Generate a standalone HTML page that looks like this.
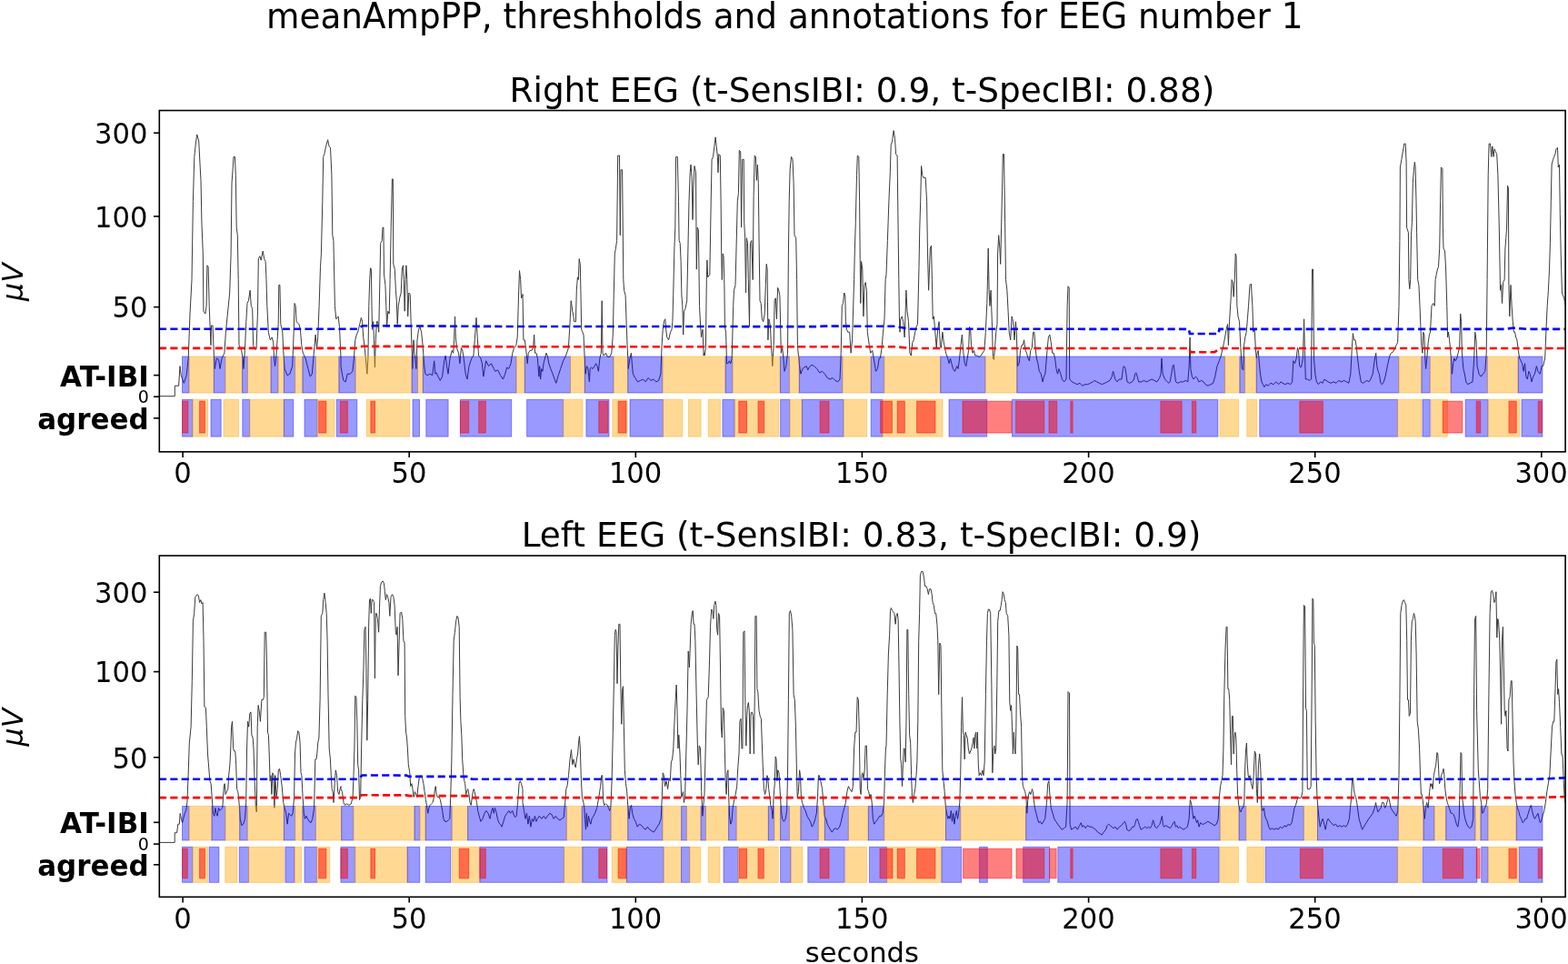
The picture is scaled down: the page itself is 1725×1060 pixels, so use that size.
<!DOCTYPE html>
<html><head><meta charset="utf-8"><title>meanAmpPP</title><style>html,body{margin:0;padding:0;background:#fff;}
body{width:1725px;height:1060px;overflow:hidden;}
svg{display:block;}
text{font-family:"DejaVu Sans","Liberation Sans",sans-serif;fill:#000;}
.ti{font-size:37.4px;}
.st{font-size:37.4px;}
.tk{font-size:30.6px;}
.bd{font-size:31px;font-weight:bold;}
.sm{font-size:19px;}
.yl{font-size:31.5px;font-style:italic;}
.tick{stroke:#000;stroke-width:1.6;}
.sig{fill:none;stroke:#3a3a3a;stroke-width:1.0;stroke-linejoin:round;}
.db{fill:none;stroke:#0000ff;stroke-width:2.6;stroke-dasharray:8.1 4.243;}
.dr{fill:none;stroke:#ff0000;stroke-width:2.6;stroke-dasharray:8.1 4.243;}
.B{fill:#0000ff;fill-opacity:0.4;stroke:#0000ff;stroke-opacity:0.4;stroke-width:1.0;}
.O{fill:#ffa500;fill-opacity:0.42;stroke:#ffa500;stroke-opacity:0.42;stroke-width:1.0;}
.R{fill:#ff0000;fill-opacity:0.5;stroke:#ff0000;stroke-opacity:0.5;stroke-width:1.0;}
</style></head>
<body><svg width="1725" height="1060" viewBox="0 0 1725 1060">
<text transform="translate(863.3,30.5) scale(1,1.035)" class="ti" text-anchor="middle">meanAmpPP, threshholds and annotations for EEG number 1</text>
<clipPath id="c1"><rect x="175.3" y="121.5" width="1546.8" height="375.3"/></clipPath>
<g clip-path="url(#c1)">
<polyline class="sig" points="175,435.7 192.3,435.7 192.3,424.2 196.6,424.2 198,402.6 199.2,412.7 202.3,421.3 205.2,412.7 207.2,394 209,345 211,307.6 212.4,221.3 213.8,172.4 215.3,158 216.7,147.9 218.7,155.1 220.2,183.9 221,198.3 221.9,244.3 223.3,278.9 223.9,342.2 225.9,345 227.1,336.4 227.9,291.8 229.1,293.3 230.2,336.4 231.1,359.4 232,379.6 232.5,358 234,358 235.4,391.1 236.3,405.5 238.3,394 240.6,395.4 242,405.5 244.1,394 246.9,388.2 248.4,365.2 250.4,345 252.7,322 254.1,278.9 255,201.2 256.1,186.8 257,172.4 258.4,172.4 259.3,192.5 260.2,250.1 261.3,258.7 262.2,307.6 263,379.6 265.6,385.3 267.1,394 267.9,405.5 269.4,385.3 270.8,353.7 272,333.5 273.4,330.7 275.1,319.2 276.3,336.4 277.7,339.3 278.6,379.6 280,383.9 282,383.9 283.5,342.2 284.3,284.6 285.8,281.7 287.2,286.1 289.2,276 290.7,284.6 292.1,287.5 293,307.6 293.8,336.4 295.3,365.2 297.3,373.8 299.3,370.9 300.7,376.7 301.6,394 302.5,402.6 303.9,391.1 305.1,373.8 306.2,356.6 306.8,313.4 307.9,313.4 308.8,356.6 310.8,365.2 311.7,385.3 313.1,405.5 316,412.7 318.9,411.2 321.7,402.6 323.2,365.2 324,333.5 325.2,336.4 326.1,353.7 328.9,356.6 330.4,362.3 331.8,379.6 333.3,388.2 336.1,394 339,405.5 341.3,414.1 343.3,411.2 345.3,388.2 347.1,368.1 348.5,382.5 349.7,370.9 351.1,336.4 352.5,293.3 353.4,278.9 354.8,221.3 355.7,172.4 356.8,169.5 358.6,160.9 360.6,153.7 362,160.9 363.5,162.3 364.9,192.5 365.8,258.7 366.9,264.5 368.4,336.4 369.8,350.8 372.1,347.9 373.5,359.4 375,394 375,402.6 376.4,411.2 377.9,418.4 380.2,419.9 382.2,411.2 385.1,411.2 387.9,408.3 389.4,394 390.8,373.8 392.3,368.1 393.7,365.2 395.7,356.6 397.4,349.4 398.6,353.7 399.7,370.9 400.9,379.6 402.3,394 403.8,411.2 404.9,394 405.8,336.4 406.7,307.6 407.5,294.7 408.4,296.1 409,336.4 409.5,362.3 410.7,353.7 411.5,373.8 412.4,404 413.3,373.8 414.4,353.7 415.6,353.7 416.7,365.2 417.6,322 418.7,267.4 420.2,264.5 421,250.1 421.9,250.1 422.5,301.9 423.9,313.4 424.8,336.4 425.6,359.4 426.8,342.2 428.2,345 429.1,307.6 430.2,250.1 431.4,196.9 432.3,196.9 432.8,290.4 434.3,296.1 435.4,319.2 436.3,330.7 437.2,356.6 438.3,336.4 439.7,327.8 441.2,322 442.3,296.1 443.5,291.8 444.3,307.6 445.2,342.2 446.1,307.6 446.9,291.8 447.8,307.6 448.7,347.9 449.8,322 451.2,323.5 452.1,353.7 453,382.5 453.8,405.5 455,373.8 456.1,388.2 457.9,405.5 459,373.8 460.5,362.3 461.9,359.4 463.6,365.2 465.1,379.6 466.5,399.7 467.9,411.2 470,412.7 472.8,411.2 475.7,412.7 477.7,396.8 478.9,411.2 480,409.8 482,414.1 484.3,418.4 486.6,414.1 488.7,396.8 490.1,391.1 491.5,402.6 493,411.2 495,394 497.3,385.3 498.7,388.2 499.6,373.8 500.5,347.9 501.3,370.9 502.5,382.5 504.5,388.2 505.9,399.7 507.4,382.5 508.8,385.3 510.2,394 512.2,411.2 514,417 516,402.6 518.9,394 520.9,391.1 522.3,373.8 524,349.4 525.2,370.9 526.6,391.1 528.9,394 530.4,399.7 531.8,414.1 533.3,405.5 534.7,396.8 537.6,402.6 540.4,399.7 543.3,405.5 544.8,408.3 547.6,406.9 550.5,412.7 553.4,417 555.7,411.2 557.7,404 559.7,405.5 562,399.7 563.8,388.2 565.5,382.5 567.8,379.6 569.2,370.9 570.7,319.2 571.5,297.6 572.7,307.6 573.5,327.8 575,324.9 575,323.5 575.9,373.8 577.3,373.8 578.5,382.5 580.2,399.7 581.3,388.2 583.1,385.3 585.1,385.3 586.5,382.5 587.7,368.1 588.5,388.2 590,388.2 591.4,394 592.8,414.1 593.7,402.6 594.6,417 595.7,405.5 596.9,408.3 598,399.7 599.5,394 600.9,388.2 602.3,391.1 603.8,399.7 605.8,405.5 608.1,411.2 610.1,417 611.8,421.3 613.8,414.1 616.7,405.5 619.6,396.8 622.5,391.1 625.4,382.5 626.8,359.4 628.2,330.7 629.1,336.4 629.7,342.2 630.5,345 631.7,353.7 633.4,353.7 634.3,319.2 635.4,304.8 636.3,307.6 637.2,284.6 638.3,290.4 638.9,319.2 639.7,362.3 640.9,365.2 642,368.1 643.2,394 644.1,411.2 645.5,402.6 646.9,405.5 648.4,419.9 649.2,405.5 650.4,404 652.1,405.5 654.1,402.6 655.6,399.7 657,402.6 658.4,408.3 659.9,394 661.3,388.2 662.2,330.7 663,388.2 664.2,391.1 666.5,388.2 668.5,392.5 670.8,392.5 672.8,388.2 674.3,368.1 675.1,330.7 676.3,278.9 677.4,273.1 678.6,264.5 679.7,171 681.5,171 682.3,258.7 682.9,186.8 684.6,186.8 685.8,307.6 686.6,319.2 688.1,324.9 689.2,356.6 690.1,379.6 691.2,405.5 693,394 694.4,388.2 695.3,399.7 696.4,411.2 698.7,415.5 701.6,419.9 704.5,418.4 707.4,417 710.2,419.9 713.1,415.5 716,418.4 718.9,417 721.7,419.9 724.6,418.4 726.9,411.2 728.1,379.6 729.2,362.3 730.4,353.7 731.8,350.8 732.7,362.3 733.8,370.9 735.6,373.8 737.6,365.2 739,362.3 739.9,353.7 740.7,324.9 741.9,273.1 742.8,250.1 743.6,172.4 745.3,172.4 746.5,221.3 747.1,264.5 748.2,267.4 749.1,287.5 749.9,324.9 750.8,336.4 751.7,368.1 752.5,342.2 754,339.3 755.7,330.7 756.8,278.9 758,221.3 759.2,189.7 760,181 761.2,195.4 762,241.5 762.9,206.9 764,182.5 765.5,189.7 766.3,296.1 767.2,250.1 768.4,253 769.5,336.4 770.7,359.4 771.5,370.9 773,362.3 774.1,391.1 775,388.2 775,391.1 776.4,382.5 777.3,307.6 777.9,286.1 778.7,304.8 780.8,301.9 782.2,221.3 783.1,175.3 784.5,172.4 785.9,160.9 787.1,150.8 788.2,160.9 789.4,172.4 790,189.7 790.8,169.5 792.3,171 793.1,221.3 793.7,278.9 794.3,307.6 795.1,278.9 796,281.7 796.9,313.4 797.4,359.4 798.6,365.2 799.5,399.7 800.9,399.7 802.3,396.8 803.8,399.7 805.2,394 806.7,336.4 807.5,319.2 809,313.4 810.1,270.2 811.3,221.3 812.4,212.7 813.3,165.2 814.7,166.7 815.6,250.1 816.7,175.3 818.2,175.3 818.7,244.3 819.6,261.6 820.5,322 821.3,261.6 822.5,267.4 823.3,307.6 824.5,359.4 825.4,267.4 826.8,264.5 828.2,307.6 829.1,215.6 830.2,171 831.4,172.4 832.3,198.3 833.4,181 834.3,201.2 835.1,267.4 836,330.7 837.2,333.5 838.3,350.8 839.7,353.7 841.2,345 842.3,313.4 843.2,290.4 844.1,296.1 844.9,373.8 845.8,350.8 846.6,353.7 847.5,359.4 848.4,379.6 849.8,402.6 851.2,379.6 852.1,330.7 853.3,327.8 854.4,350.8 855.6,316.3 856.7,319.2 857.9,324.9 859.3,388.2 860.7,382.5 861.9,394 863,408.3 864.8,402.6 866.5,388.2 867.4,278.9 868.2,221.3 869.1,186.8 870.5,172.4 872,175.3 873.1,201.2 874,258.7 875.7,261.6 876.6,307.6 877.4,379.6 879.2,399.7 880.9,411.2 882.9,405.5 884.9,404 887.2,402.6 888.7,406.9 890.1,404 893,401.2 895.8,402.6 898.7,405.5 901.6,409.8 904.5,408.3 907.4,411.2 910.2,415.5 913.1,417 916,415.5 918.9,418.4 921.7,419.9 924,417 925.2,388.2 926.3,336.4 927.5,333.5 928.7,322 929.8,324.9 930.4,353.7 931.5,362.3 932.7,365.2 934.7,365.2 936.1,388.2 937.6,373.8 938.4,347.9 939.6,307.6 940.4,273.1 941.3,244.3 942.5,192.5 943.3,171 944.8,172.4 945.6,221.3 946.2,284.6 946.8,333.5 947.6,287.5 948.8,296.1 949.9,347.9 951.1,313.4 952.2,310.5 953.4,319.2 954.3,365.2 956.3,379.6 957.7,388.2 959.7,385.3 961.2,394 963.5,408.3 965.5,405.5 967.2,394 968.4,394 970.1,382.5 971.5,365.2 973,350.8 974.1,307.6 975,301.9 975,301.9 976.4,264.5 977.9,221.3 979.3,189.7 980.2,159.5 981.6,155.1 983.1,143.6 984.5,152.3 985.6,169.5 987.1,171 987.9,235.7 988.8,307.6 989.4,347.9 990,365.2 990.8,350.8 992.3,347.9 993.7,353.7 995.1,370.9 996,347.9 996.9,319.2 998,342.2 999.5,353.7 1000.9,388.2 1002.3,391.1 1003.8,376.7 1005.2,373.8 1006.7,365.2 1008.1,359.4 1009.5,356.6 1011,293.3 1011.8,250.1 1012.7,221.3 1013.6,182.5 1014.7,192.5 1015.9,195.4 1018.2,195.4 1019.6,221.3 1020.5,278.9 1021.6,319.2 1022.5,296.1 1023.3,273.1 1024.5,270.2 1025.4,307.6 1026.2,350.8 1027.4,347.9 1028.8,365.2 1030.2,382.5 1031.7,362.3 1033.1,353.7 1034.3,379.6 1035.4,382.5 1036.9,365.2 1038.3,376.7 1040.6,388.2 1042.6,394 1044.1,399.7 1045.5,394 1046.9,399.7 1048.4,405.5 1050.4,408.3 1052.7,402.6 1054.1,405.5 1055.6,394 1057,379.6 1058.4,368.1 1059.9,388.2 1061.3,399.7 1062.8,402.6 1064.2,394 1065.6,385.3 1066.5,359.4 1067.7,362.3 1068.5,379.6 1070,388.2 1071.4,385.3 1072.8,391.1 1075.1,391.1 1077.1,392.5 1079.2,391.1 1080.9,388.2 1082.9,385.3 1084.3,365.2 1085.8,333.5 1086.6,301.9 1087.2,273.1 1088.1,319.2 1088.9,336.4 1090.1,319.2 1091.5,359.4 1092.4,394 1093.5,395.4 1094.7,379.6 1095.8,365.2 1097,356.6 1097.6,278.9 1098.7,258.7 1099.9,273.1 1100.7,290.4 1101.6,250.1 1102.5,209.8 1103.3,169.5 1104.5,169.5 1105.6,244.3 1106.5,307.6 1107.9,319.2 1109.1,342.2 1110.2,365.2 1111.7,373.8 1113.1,347.9 1114.6,353.7 1116,373.8 1117.4,353.7 1118.3,365.2 1119.4,402.6 1121.2,399.7 1122.6,385.3 1124,379.6 1125.2,379.6 1126.6,373.8 1128.1,385.3 1129.5,388.2 1131,394 1132.4,396.8 1133.8,385.3 1135.3,382.5 1136.7,365.2 1137.9,365.2 1139,382.5 1140.4,394 1141.9,399.7 1143.3,408.3 1145.3,411.2 1147.1,419.9 1148.5,414.1 1149.9,411.2 1152,385.3 1153.4,370.9 1154.8,368.1 1156.3,376.7 1157.7,388.2 1159.2,388.2 1160.6,394 1162,405.5 1163.5,411.2 1164.9,405.5 1166.9,411.2 1168.4,417 1170.7,419.9 1173,417 1174.1,336.4 1175,314.8 1175,314.8 1176.2,316.3 1176.7,417 1179.3,419.9 1182.2,421.3 1185.1,422.7 1187.9,421.3 1190.8,424.2 1193.7,422.7 1196.6,422.7 1199.5,421.3 1202.3,419.9 1203.8,418.4 1206.7,419.9 1209.5,421.3 1212.4,422.7 1215.3,421.3 1218.2,419.9 1221,418.4 1223.3,414.1 1224.5,408.3 1225.4,411.2 1226.8,417 1229.1,419.9 1231.1,417 1234,417 1235.4,405.5 1236.3,402.6 1237.7,404 1238.9,411.2 1240,419.9 1242.6,421.3 1245.5,419.9 1247.5,417 1248.7,411.2 1249.8,409.8 1251.2,414.1 1252.7,419.9 1255.6,419.9 1258.4,418.4 1261.3,419.9 1264.2,418.4 1267.1,417 1270,418.4 1272.8,419.9 1275.7,415.5 1277.1,411.2 1278,394 1279.2,411.2 1281.5,417 1282.9,418.4 1284.3,419.9 1285.8,421.3 1287.2,419.9 1288.7,411.2 1290.1,402.6 1291.2,401.2 1292.4,411.2 1293.5,419.9 1295.8,421.3 1298.7,419.9 1301.6,419.9 1304.5,418.4 1306.8,419.9 1308.2,402.6 1309.1,370.9 1309.9,405.5 1311.4,414.1 1313.1,417 1315.4,414.1 1316.9,415.5 1318.9,419.9 1321.7,418.4 1324,419.9 1326.1,422.7 1328.9,424.2 1331.8,422.7 1334.7,421.3 1336.7,414.1 1339,402.6 1341.3,396.8 1343.3,391.1 1345.3,382.5 1346.5,376.7 1347.6,370.9 1349.1,362.3 1350.5,356.6 1351.4,379.6 1352.5,353.7 1354,330.7 1355.1,307.6 1356.3,310.5 1357.1,326.3 1358,313.4 1359.2,278.9 1360,281.7 1360.9,336.4 1362,347.9 1363.5,353.7 1364.9,382.5 1366.3,405.5 1367.8,406.9 1368.6,379.6 1369.8,370.9 1371.2,365.2 1372.4,350.8 1373.5,336.4 1375,313.4 1375,313.4 1376.4,312 1377.9,336.4 1378.7,365.2 1380.2,362.3 1381.3,382.5 1382.2,394 1383.1,388.2 1384.2,385.3 1385.4,399.7 1386.5,411.2 1387.9,419.9 1389.4,422.7 1390.8,425.6 1392.8,422.7 1395.1,424.2 1398,421.3 1400.9,422.7 1403.8,419.9 1406.7,422.7 1409,419.9 1411,421.3 1413.8,422.7 1416.7,421.3 1419.6,422.7 1421.6,419.9 1422.8,396.8 1424.5,399.7 1426.2,394 1427.4,382.5 1428.5,385.3 1429.7,402.6 1431.1,404 1432.5,399.7 1433.4,394 1434.6,350.8 1435.4,385.3 1436.3,417 1438.3,417 1440.6,418.4 1442.6,417 1443.5,296.1 1444.6,296.1 1445.5,394 1446.9,411.2 1448.4,419.9 1450.4,422.7 1452.7,419.9 1455,421.3 1457,417 1459,418.4 1461.3,419.9 1464.2,421.3 1467.1,419.9 1470,421.3 1472.8,418.4 1475.7,419.9 1478.6,418.4 1481.5,419.9 1483.8,421.3 1485.8,411.2 1487.2,385.3 1488.4,366.6 1489.5,373.8 1491,373.8 1492.4,382.5 1493.5,394 1495.3,408.3 1497.3,419.9 1499.3,421.3 1501.6,419.9 1503.9,418.4 1505.9,419.9 1507.9,417 1510.2,411.2 1512.5,394 1513.7,388.2 1514.8,402.6 1516,408.3 1517.4,411.2 1518.9,421.3 1520.3,422.7 1522.3,419.9 1524,414.1 1525.2,408.3 1526.9,399.7 1528.9,391.1 1530.4,388.2 1532.7,386.8 1534.7,382.5 1536.1,379.6 1537.6,376.7 1539,336.4 1539.9,264.5 1540.4,183.9 1541.9,175.3 1543.3,166.7 1544.8,158 1546.2,158 1547.1,178.2 1547.6,250.1 1548.5,253 1549.4,255.8 1549.9,307.6 1550.8,317.7 1551.7,307.6 1552.5,258.7 1553.4,244.3 1554.3,201.2 1555.4,186.8 1556.3,178.2 1557.1,183.9 1558,221.3 1558.6,255.8 1559.7,307.6 1560.9,313.4 1562,336.4 1562.9,359.4 1563.8,379.6 1564.9,388.2 1565.8,365.2 1566.9,368.1 1567.8,394 1568.6,405.5 1569.8,394 1571.2,376.7 1572.4,368.1 1573.5,365.2 1575,336.4 1575.1,336.4 1576.8,333.5 1578.2,336.4 1579.1,307.6 1580.2,301.9 1581.4,296.1 1582.5,293.3 1583.7,273.1 1584.6,221.3 1585.4,183.9 1586.9,185.4 1587.4,250.1 1588,273.1 1589.5,276 1590.6,296.1 1591.8,336.4 1592.6,370.9 1593.5,365.2 1594.6,373.8 1596.4,394 1597.5,411.2 1598.7,399.7 1599.8,394 1601.2,396.8 1602.7,394 1604.1,388.2 1605.6,382.5 1606.7,345 1607.6,353.7 1608.4,388.2 1609.9,405.5 1611.3,411.2 1612.8,419.9 1614.8,422.7 1617.1,421.3 1620,419.9 1621.7,394 1622.8,365.2 1624,373.8 1625.1,402.6 1627.1,411.2 1629.2,414.1 1631.5,411.2 1633.8,408.3 1635.2,388.2 1636.1,307.6 1637.2,192.5 1638.1,158 1639.5,158 1640.7,172.4 1641.8,160.9 1643,172.4 1644.1,163.8 1645.3,166.7 1646.7,169.5 1647.9,192.5 1649.3,250.1 1650.5,319.2 1651.6,313.4 1652.5,333.5 1653.6,310.5 1655.1,307.6 1655.9,273.1 1656.8,261.6 1657.6,250.1 1658.5,204.1 1659.4,206.9 1659.9,313.4 1660.8,347.9 1662,313.4 1663.1,336.4 1664.3,353.7 1665.4,365.2 1666.6,365.2 1667.7,370.9 1668.9,373.8 1670.3,385.3 1671.7,394 1673.2,396.8 1674.6,399.7 1676.1,408.3 1677.5,399.7 1678.9,414.1 1680.4,417 1681.8,408.3 1683.3,411.2 1685,419.9 1686.7,414.1 1688.4,411.2 1690.4,402.6 1691.9,408.3 1694.2,411.2 1696.2,402.6 1697.6,402.6 1699.7,394 1701.1,359.4 1702.2,336.4 1703.4,319.2 1704.5,296.1 1705.4,267.4 1706.3,221.3 1707.1,181 1708.6,175.3 1709.7,172.4 1710.9,169.5 1712,163.8 1713.5,162.3 1714.3,183.9 1715.5,181 1716.3,235.7 1717.2,278.9 1718.4,322 1719.5,324.9 1720.7,327.8 1722.4,336.4"/>
<rect class="B" x="200.5" y="392" width="7.5" height="40"/>
<rect class="O" x="208" y="392" width="27.3" height="40"/>
<rect class="B" x="235.3" y="392" width="12.5" height="40"/>
<rect class="O" x="247.8" y="392" width="18.8" height="40"/>
<rect class="B" x="266.6" y="392" width="5.8" height="40"/>
<rect class="O" x="272.4" y="392" width="25.7" height="40"/>
<rect class="B" x="298.1" y="392" width="7.9" height="40"/>
<rect class="O" x="306" y="392" width="6.4" height="40"/>
<rect class="B" x="312.4" y="392" width="12.2" height="40"/>
<rect class="O" x="324.6" y="392" width="8.3" height="40"/>
<rect class="B" x="332.9" y="392" width="14.5" height="40"/>
<rect class="O" x="347.4" y="392" width="25.5" height="40"/>
<rect class="B" x="372.9" y="392" width="18.2" height="40"/>
<rect class="O" x="391.1" y="392" width="62" height="40"/>
<rect class="B" x="453.1" y="392" width="6.4" height="40"/>
<rect class="O" x="459.5" y="392" width="5.8" height="40"/>
<rect class="B" x="465.3" y="392" width="102.7" height="40"/>
<rect class="O" x="568" y="392" width="9.3" height="40"/>
<rect class="B" x="577.3" y="392" width="50.2" height="40"/>
<rect class="O" x="627.5" y="392" width="15.8" height="40"/>
<rect class="B" x="643.3" y="392" width="31.7" height="40"/>
<rect class="O" x="675" y="392" width="15.7" height="40"/>
<rect class="B" x="690.7" y="392" width="38.2" height="40"/>
<rect class="O" x="728.9" y="392" width="69.2" height="40"/>
<rect class="B" x="798.1" y="392" width="7.8" height="40"/>
<rect class="O" x="805.9" y="392" width="52.5" height="40"/>
<rect class="B" x="858.4" y="392" width="10.1" height="40"/>
<rect class="O" x="868.5" y="392" width="10.8" height="40"/>
<rect class="B" x="879.3" y="392" width="47.5" height="40"/>
<rect class="O" x="926.8" y="392" width="31.4" height="40"/>
<rect class="B" x="958.2" y="392" width="14.5" height="40"/>
<rect class="O" x="972.7" y="392" width="62" height="40"/>
<rect class="B" x="1034.7" y="392" width="49.3" height="40"/>
<rect class="O" x="1084" y="392" width="34.8" height="40"/>
<rect class="B" x="1118.8" y="392" width="228.7" height="40"/>
<rect class="O" x="1347.5" y="392" width="16.4" height="40"/>
<rect class="B" x="1363.9" y="392" width="5.6" height="40"/>
<rect class="O" x="1369.5" y="392" width="12.7" height="40"/>
<rect class="B" x="1382.2" y="392" width="156.6" height="40"/>
<rect class="O" x="1538.8" y="392" width="25.1" height="40"/>
<rect class="B" x="1563.9" y="392" width="9.3" height="40"/>
<rect class="O" x="1573.2" y="392" width="23" height="40"/>
<rect class="B" x="1596.2" y="392" width="40.2" height="40"/>
<rect class="O" x="1636.4" y="392" width="33.8" height="40"/>
<rect class="B" x="1670.2" y="392" width="26.7" height="40"/>
<rect class="B" x="200.5" y="439.3" width="11.4" height="40.8"/>
<rect class="O" x="211.9" y="439.3" width="16.7" height="40.8"/>
<rect class="B" x="232" y="439.3" width="11.2" height="40.8"/>
<rect class="O" x="246" y="439.3" width="16.5" height="40.8"/>
<rect class="B" x="266.8" y="439.3" width="7.9" height="40.8"/>
<rect class="O" x="274.7" y="439.3" width="37.7" height="40.8"/>
<rect class="B" x="312.4" y="439.3" width="10.4" height="40.8"/>
<rect class="B" x="335" y="439.3" width="14.1" height="40.8"/>
<rect class="O" x="349.1" y="439.3" width="18.9" height="40.8"/>
<rect class="B" x="370.2" y="439.3" width="22.6" height="40.8"/>
<rect class="O" x="403.3" y="439.3" width="47.5" height="40.8"/>
<rect class="B" x="454" y="439.3" width="7.5" height="40.8"/>
<rect class="B" x="468.8" y="439.3" width="24.3" height="40.8"/>
<rect class="B" x="506.4" y="439.3" width="56.3" height="40.8"/>
<rect class="B" x="579.6" y="439.3" width="40.1" height="40.8"/>
<rect class="O" x="619.7" y="439.3" width="21.3" height="40.8"/>
<rect class="B" x="644.9" y="439.3" width="25.1" height="40.8"/>
<rect class="O" x="673.8" y="439.3" width="16.3" height="40.8"/>
<rect class="B" x="693" y="439.3" width="36.5" height="40.8"/>
<rect class="O" x="729.5" y="439.3" width="21.3" height="40.8"/>
<rect class="O" x="757.5" y="439.3" width="13.6" height="40.8"/>
<rect class="O" x="779.2" y="439.3" width="13.3" height="40.8"/>
<rect class="B" x="794.9" y="439.3" width="13.3" height="40.8"/>
<rect class="O" x="808.2" y="439.3" width="48.7" height="40.8"/>
<rect class="B" x="858.6" y="439.3" width="10.2" height="40.8"/>
<rect class="O" x="868.8" y="439.3" width="13.6" height="40.8"/>
<rect class="B" x="882.4" y="439.3" width="45.6" height="40.8"/>
<rect class="O" x="928" y="439.3" width="25.6" height="40.8"/>
<rect class="B" x="958.2" y="439.3" width="12.7" height="40.8"/>
<rect class="O" x="970.9" y="439.3" width="66.1" height="40.8"/>
<rect class="B" x="1044" y="439.3" width="41.7" height="40.8"/>
<rect class="B" x="1113.5" y="439.3" width="226.4" height="40.8"/>
<rect class="O" x="1341.9" y="439.3" width="20.6" height="40.8"/>
<rect class="O" x="1371.8" y="439.3" width="11" height="40.8"/>
<rect class="B" x="1385.7" y="439.3" width="151.8" height="40.8"/>
<rect class="O" x="1537.5" y="439.3" width="26.4" height="40.8"/>
<rect class="B" x="1565" y="439.3" width="8.2" height="40.8"/>
<rect class="O" x="1574.5" y="439.3" width="17.9" height="40.8"/>
<rect class="B" x="1612.1" y="439.3" width="24.9" height="40.8"/>
<rect class="O" x="1637" y="439.3" width="35.1" height="40.8"/>
<rect class="B" x="1674" y="439.3" width="22.9" height="40.8"/>
<rect class="R" x="200.7" y="441.2" width="6.2" height="34.8"/>
<rect class="R" x="219.6" y="441.2" width="5.8" height="34.8"/>
<rect class="R" x="350.7" y="441.2" width="8.1" height="34.8"/>
<rect class="R" x="374.3" y="441.2" width="8.1" height="34.8"/>
<rect class="R" x="407.9" y="441.2" width="4.6" height="34.8"/>
<rect class="R" x="506.4" y="441.2" width="9.3" height="34.8"/>
<rect class="R" x="526.7" y="441.2" width="7.6" height="34.8"/>
<rect class="R" x="658.8" y="441.2" width="9.8" height="34.8"/>
<rect class="R" x="680.2" y="441.2" width="8.7" height="34.8"/>
<rect class="R" x="812.8" y="441.2" width="8.7" height="34.8"/>
<rect class="R" x="834" y="441.2" width="6.7" height="34.8"/>
<rect class="R" x="902.1" y="441.2" width="9.9" height="34.8"/>
<rect class="R" x="968.6" y="441.2" width="12.8" height="34.8"/>
<rect class="R" x="987.2" y="441.2" width="8.1" height="34.8"/>
<rect class="R" x="1008.6" y="441.2" width="20.3" height="34.8"/>
<rect class="R" x="1059" y="441.2" width="54" height="34.8"/>
<rect class="R" x="1117.6" y="441.2" width="31.2" height="34.8"/>
<rect class="R" x="1154" y="441.2" width="8.7" height="34.8"/>
<rect class="R" x="1177.8" y="441.2" width="2.3" height="34.8"/>
<rect class="R" x="1276.9" y="441.2" width="23.2" height="34.8"/>
<rect class="R" x="1311.4" y="441.2" width="4.3" height="34.8"/>
<rect class="R" x="1429.8" y="441.2" width="25.5" height="34.8"/>
<rect class="R" x="1587.3" y="441.2" width="21.6" height="34.8"/>
<rect class="R" x="1624.2" y="441.2" width="4.5" height="34.8"/>
<rect class="R" x="1660" y="441.2" width="8.2" height="34.8"/>
<rect class="R" x="1692.2" y="441.2" width="4.1" height="34.8"/>
<polyline class="db" points="175,361.7 393,361.7 399,358.2 560,359 899,359.1 907,358.6 985.5,358.8 1000,361.7 1307.8,361.9 1309,367 1340.6,367 1341.4,361.9 1655,361.9 1665,360.6 1680,361.9 1722.1,361.9"/>
<polyline class="dr" points="175,382.9 393,382.9 398.5,380.8 560,381.2 986,381.3 1002,383 1308.5,383 1309.5,387.2 1336,387.2 1342.6,383 1722.1,383"/>
</g>
<rect x="175.3" y="121.5" width="1546.8" height="375.3" fill="none" stroke="#000" stroke-width="1.6"/>
<line x1="169" y1="146.2" x2="175.3" y2="146.2" class="tick"/>
<text transform="translate(162.5,157.9) scale(1,1.065)" class="tk" text-anchor="end">300</text>
<line x1="169" y1="237.9" x2="175.3" y2="237.9" class="tick"/>
<text transform="translate(162.5,249.6) scale(1,1.065)" class="tk" text-anchor="end">100</text>
<line x1="169" y1="337.6" x2="175.3" y2="337.6" class="tick"/>
<text transform="translate(162.5,349.3) scale(1,1.065)" class="tk" text-anchor="end">50</text>
<line x1="169" y1="412.6" x2="175.3" y2="412.6" class="tick"/>
<line x1="169" y1="436.2" x2="175.3" y2="436.2" class="tick"/>
<line x1="169" y1="459.8" x2="175.3" y2="459.8" class="tick"/>
<text transform="translate(163.8,424.5) scale(1,1.04)" class="bd" text-anchor="end">AT-IBI</text>
<text transform="translate(163.8,471.7) scale(1,1.04)" class="bd" text-anchor="end">agreed</text>
<text x="163.8" y="443.2" class="sm" text-anchor="end">0</text>
<line x1="201.1" y1="496.8" x2="201.1" y2="503.1" class="tick"/>
<text transform="translate(200.9,531.1) scale(1,1.06)" class="tk" text-anchor="middle">0</text>
<line x1="450.2" y1="496.8" x2="450.2" y2="503.1" class="tick"/>
<text transform="translate(450,531.1) scale(1,1.06)" class="tk" text-anchor="middle">50</text>
<line x1="699.3" y1="496.8" x2="699.3" y2="503.1" class="tick"/>
<text transform="translate(699.1,531.1) scale(1,1.06)" class="tk" text-anchor="middle">100</text>
<line x1="948.4" y1="496.8" x2="948.4" y2="503.1" class="tick"/>
<text transform="translate(948.2,531.1) scale(1,1.06)" class="tk" text-anchor="middle">150</text>
<line x1="1197.6" y1="496.8" x2="1197.6" y2="503.1" class="tick"/>
<text transform="translate(1197.4,531.1) scale(1,1.06)" class="tk" text-anchor="middle">200</text>
<line x1="1446.7" y1="496.8" x2="1446.7" y2="503.1" class="tick"/>
<text transform="translate(1446.5,531.1) scale(1,1.06)" class="tk" text-anchor="middle">250</text>
<line x1="1695.8" y1="496.8" x2="1695.8" y2="503.1" class="tick"/>
<text transform="translate(1695.6,531.1) scale(1,1.06)" class="tk" text-anchor="middle">300</text>
<text transform="translate(24.6,310.1) rotate(-90)" class="yl" text-anchor="middle">&#956;V</text>
<text x="948.4" y="111.5" class="st" text-anchor="middle">Right EEG (t-SensIBI: 0.9, t-SpecIBI: 0.88)</text>
<clipPath id="c2"><rect x="175.3" y="611.0" width="1546.8" height="375.29999999999995"/></clipPath>
<g clip-path="url(#c2)">
<polyline class="sig" points="175,926.4 192.2,926.4 192.2,915.7 194.6,915.7 195.8,906.2 197.3,906.2 198.2,894.3 199.4,900.3 200.6,904.7 201.7,900.3 203.2,894.3 204.7,891.4 205.9,882.5 207.1,852.7 208.3,817.1 210.1,799.2 211.3,748.7 212.4,683.3 213.6,674.4 214.8,656.6 216,655.1 217.2,653.6 218.4,655.1 219.6,662.5 220.8,659.6 222,664 223.1,662.5 224,704.2 224.9,777 226.4,778.4 227.3,799.2 228.5,829 229.7,843.8 230.9,858.7 232.1,861.7 233.2,876.5 234.4,894.3 235.9,897.3 236.8,888.4 238,894.3 239.2,897.3 240.4,888.4 241.9,891.4 243.3,889.9 244.8,888.4 246.3,864.6 247.2,861.7 248.1,873.5 249.3,870.6 250.8,867.6 251.7,852.7 252.9,840.8 253.8,823 254.6,799.2 255.5,793.3 256.7,823 257.6,826 258.8,826 259.7,840.8 260.6,867.6 261.8,870.6 263,882.5 264.2,900.3 265.9,907.7 267.7,906.2 269.5,900.3 270.7,882.5 271.6,823 272.5,793.3 273.7,799.2 274.8,784.4 276,782.9 276.9,808.2 278.1,811.1 279,823 279.9,852.7 281.4,888.4 282.3,892.9 283.2,799.2 284.1,775.5 285.2,781.4 286.4,793.3 287.9,769.5 289.4,769.5 290.3,766.6 291.2,695.2 292.7,695.2 293.6,733.9 294.5,805.2 295.4,808.2 296.2,829 297.1,858.7 298,852.7 298.9,873.5 299.8,849.8 301,852.7 301.9,888.4 302.8,852.7 304,876.5 305.2,867.6 306.3,846.8 307.5,845.3 308.7,852.7 310.2,864.6 311.7,882.5 313.2,888.4 314.7,894.3 316.2,906.2 317.6,894.3 319.1,895.8 320.6,897.3 322.1,894.3 323.6,876.5 324.5,829 325.4,817.1 326.6,811.1 327.7,803.7 328.9,805.2 330.1,817.1 331,849.8 331.9,852.7 333.1,876.5 334.3,894.3 335.5,900.3 337,897.3 338.4,900.3 340.2,903.3 342,904.7 343.8,900.3 345.6,888.4 346.8,834.9 348,834.9 348.8,829 349.7,817.1 350.9,811.1 352.1,769.5 353.3,677.4 354.8,674.4 355.7,659.6 356.9,652.1 358.1,662.5 359.2,674.4 360.1,704.2 361,763.6 362.2,823 363.4,834.9 364.3,852.7 365.2,867.6 366.1,870.6 367,882.5 368.2,861.7 369.3,846.8 370.5,852.7 371.7,870.6 372.9,873.5 374.1,867.6 375,864.6 375,867.6 376.5,870.6 378,882.5 379.5,885.4 381.5,883.9 383.9,885.4 386.3,883.9 388.1,876.5 389,852.7 389.9,823 390.8,765.1 391.9,766.6 392.8,793.3 393.7,840.8 394.6,846.8 395.5,879.5 396.7,876.5 397.6,823 398.8,769.5 400,733.9 400.9,692.3 402,689.3 402.9,733.9 403.8,814.1 404.7,769.5 405.6,689.3 406.5,659.6 407.4,658.1 408.3,674.4 409.2,659.6 410.4,659.6 411.6,662.5 412.4,745.8 413.3,674.4 414.2,674.4 415.4,680.4 416.6,695.2 417.5,668.5 418.4,644.7 419.6,640.3 421.1,638.8 422.5,641.7 423.4,650.7 424.3,659.6 425.5,653.6 426.7,656.6 427.9,662.5 428.8,677.4 430,656.6 431.5,653.6 432.9,656.6 434.1,665.5 435.3,695.2 436.2,698.2 437.1,689.3 438,742.8 439.2,704.2 440.1,674.4 441.6,672.9 442.8,680.4 443.9,704.2 445.1,707.1 445.7,787.4 446.6,805.2 447.5,811.1 448.4,823 449.3,840.8 450.8,849.8 451.7,864.6 452.9,861.7 454,867.6 455.2,876.5 456.4,870.6 457.6,873.5 458.8,876.5 460,864.6 461.2,855.7 462.4,852.7 463.6,854.2 464.7,855.7 465.9,861.7 467.1,870.6 468.3,879.5 469.5,885.4 470.7,894.3 471.9,888.4 473.1,885.4 474.6,883.9 476,882.5 477.5,876.5 478.4,867.6 479.3,864.6 480.2,873.5 481.4,876.5 483.2,876.5 484.4,879.5 485.5,885.4 486.7,891.4 487.9,900.3 489.4,903.3 491.5,903.3 493.3,901.8 494.8,900.3 495.7,876.5 496.8,837.9 498,763.6 499.2,704.2 500.4,695.2 501.6,683.3 502.8,677.4 504,678.9 505.2,689.3 506.1,766.6 506.9,793.3 507.8,808.2 508.7,834.9 509.9,852.7 510.8,858.7 511.7,861.7 512.6,873.5 513.5,870.6 514.7,867.6 515.9,873.5 517,882.5 518.2,885.4 519.4,876.5 520.3,870.6 521.2,867.6 522.1,870.6 523.3,876.5 524.5,882.5 525.7,891.4 527.2,897.3 528.9,903.3 531,900.3 533.1,894.3 534.9,891.4 537,894.3 539,900.3 540.8,891.4 542,888.4 543.2,894.3 544.4,888.4 545.9,892.9 547.4,900.3 548.8,904.7 550.3,906.2 552.1,909.2 553.9,903.3 555.7,897.3 557.8,894.3 559.8,891.4 561.6,894.3 563.7,891.4 565.2,895.8 566.7,898.8 568.2,897.3 569.6,882.5 571.1,861.7 572.3,858.7 573.5,861.7 575,867.6 575,882.5 576.5,891.4 578,900.3 579.5,894.3 580.9,906.2 582.4,897.3 583.9,909.2 585.4,900.3 586.9,903.3 588.4,897.3 589.9,903.3 591.3,900.3 593.4,897.3 595.8,900.3 598.2,897.3 600.3,900.3 602.3,897.3 604.7,894.3 607.1,895.8 609.2,900.3 611.3,897.3 613.6,900.3 616,901.8 618.1,900.3 620.2,898.8 621.7,882.5 622.8,867.6 624,864.6 625.5,852.7 627,834.9 628.5,824.5 629.7,840.8 630.9,834.9 632.1,840.8 633.2,843.8 634.4,834.9 635.6,829 636.5,817.1 637.4,809.6 638.3,823 639.2,852.7 640.4,876.5 641.9,882.5 642.8,888.4 643.6,900.3 644.5,912.2 645.4,894.3 646.3,909.2 647.5,897.3 648.7,903.3 649.9,906.2 651.1,900.3 652.9,897.3 654.6,894.3 656.7,888.4 658.8,876.5 660.6,864.6 661.8,852.7 662.7,852.7 663.6,879.5 664.7,885.4 666.5,883.9 668.3,885.4 669.5,888.4 670.7,891.4 671.9,888.4 673.1,858.7 674.3,805.2 675.4,748.7 676.3,698.2 677.2,692.3 678.1,695.2 679,751.7 679.9,713.1 680.8,686.3 682,686.3 682.9,757.6 683.8,796.3 684.7,757.6 685.5,754.7 686.4,799.2 687.3,846.8 688.5,861.7 689.7,870.6 690.9,888.4 692.1,900.3 693.3,888.4 694.5,885.4 695.7,894.3 697.4,900.3 699.2,903.3 701.3,909.2 703.4,906.2 705.8,907.7 708.1,910.7 710.2,912.2 712.3,909.2 714.7,912.2 717,913.7 719.1,915.1 721.2,912.2 723,909.2 725.1,906.2 727.2,900.3 728.3,876.5 729.2,849.8 730.4,852.7 731.6,864.6 733.1,858.7 734.6,867.6 736.1,855.7 737.3,858.7 738.4,837.9 739.6,834.9 740.8,823 742,793.3 743.2,769.5 744.1,753.2 745,781.4 745.9,823 746.8,808.2 748,829 748.8,852.7 749.7,876.5 750.6,873.5 751.5,870.6 752.4,882.5 753.6,876.5 754.8,829 756,781.4 757.2,716 758.4,733.9 759.2,713.1 760.1,686.3 761.3,674.4 762.2,671.5 763.1,686.3 764,686.3 764.9,704.2 766.1,763.6 767.3,817.1 768.2,840.8 769.3,820 770.5,823 771.7,870.6 772.9,897.3 774.1,882.5 775,873.5 775,873.5 776.2,823 777.4,769.5 779.2,766.6 780.3,733.9 781.5,689.3 782.7,670 783.9,671.5 784.8,680.4 785.7,665.5 786.9,661.1 787.8,665.5 788.7,692.3 789.6,698.2 790.5,674.4 791.6,677.4 792.5,733.9 793.4,799.2 794.3,811.1 795.2,778.4 796.4,781.4 797.3,823 798.2,858.7 799.1,873.5 800,849.8 800.9,846.8 801.7,876.5 802.6,897.3 803.8,906.2 805,903.3 806.2,888.4 807.7,879.5 809.2,873.5 810.7,864.6 811.8,843.8 813,829 813.9,793.3 815.1,790.3 816,823 816.9,823 817.8,695.2 819,693.8 819.9,775.5 820.8,820 821.7,787.4 822.5,775.5 823.4,772.5 824.3,781.4 825.2,829 826.1,784.4 827.3,782.9 828.5,787.4 829.4,829 830.3,763.6 830.9,677.4 832.1,677.4 832.9,757.6 833.8,760.6 835,781.4 836.2,787.4 837.4,790.3 838.3,817.1 839.2,840.8 840.4,867.6 841.6,873.5 842.8,867.6 843.9,852.7 844.8,855.7 845.7,867.6 846.9,876.5 847.8,885.4 849.3,891.4 850.2,900.3 851.1,876.5 852.3,861.7 853.2,831.9 854,834.9 854.9,858.7 855.8,846.8 857,849.8 858.2,870.6 859.4,891.4 860.6,900.3 862.4,903.3 864.2,900.3 865.6,891.4 866.5,852.7 867.4,769.5 868.3,674.4 869.5,671.5 870.7,677.4 871.9,692.3 873.1,763.6 874.3,769.5 875.4,799.2 876.3,840.8 877.2,876.5 878.4,870.6 879.6,846.8 880.5,852.7 881.4,876.5 882.6,882.5 884.4,888.4 886.1,891.4 887.9,897.3 889.7,900.3 891.5,903.3 893.3,909.2 895.1,906.2 896.8,900.3 898.3,894.3 899.5,876.5 900.4,852.7 901.3,852.7 902.8,858.7 904.6,867.6 905.8,882.5 906.9,897.3 908.7,900.3 910.2,906.2 911.7,909.2 913.5,912.2 915.3,915.1 917,912.2 919.1,910.7 921.2,912.2 923.6,909.2 925.4,903.3 927.2,894.3 928.9,888.4 930.4,882.5 931.9,870.6 933.4,864.6 934.9,867.6 937,870.6 938.4,864.6 939.6,823 940.8,805.2 942,805.2 943.2,766.6 944.4,769.5 945.3,805.2 946.2,867.6 947.1,873.5 948,852.7 948.8,849.8 950,855.7 951.2,846.8 952.1,820 953.3,820 954.5,867.6 955.7,870.6 956.9,876.5 958.1,873.5 959.2,882.5 960.4,900.3 961.6,906.2 963.7,903.3 965.8,900.3 967.6,897.3 969.6,897.3 971.1,894.3 972.6,882.5 973.5,846.8 974.4,823 975,820 975,820 976.2,763.6 977.4,719 978.6,698.2 979.5,671.5 980.3,668.5 981.5,671.5 982.7,672.9 983.9,674.4 985.1,686.3 986,677.4 987.2,674.4 988.1,680.4 989,733.9 989.9,793.3 990.8,834.9 991.6,840.8 992.5,864.6 993.4,840.8 994.3,823 995.2,823 996.1,837.9 997,793.3 997.9,692.3 998.8,692.3 999.7,763.6 1000.6,808.2 1001.7,817.1 1002.6,852.7 1003.5,876.5 1004.4,882.5 1005.6,873.5 1006.8,867.6 1008,852.7 1008.9,837.9 1009.8,793.3 1010.7,704.2 1011.6,674.4 1012.4,632.8 1013.6,628.4 1015.1,628.4 1016.6,635.8 1017.5,644.7 1019,644.7 1020.2,647.7 1021.4,653.6 1022.5,647.7 1024,647.7 1025.2,653.6 1026.1,662.5 1027.3,665.5 1028.5,674.4 1029.7,674.4 1030.9,686.3 1031.8,704.2 1032.7,763.6 1033.8,707.1 1035,710.1 1035.9,781.4 1036.8,846.8 1038,858.7 1039.2,870.6 1040.4,888.4 1041.6,894.3 1042.8,900.3 1043.9,897.3 1045.1,900.3 1046.3,891.4 1047.5,903.3 1048.7,894.3 1049.9,906.2 1051.1,897.3 1052.3,891.4 1053.5,900.3 1054.6,894.3 1055.8,882.5 1056.7,852.7 1057.6,799.2 1058.5,766.6 1059.4,805.2 1060.3,808.2 1061.2,834.9 1062.1,805.2 1063,808.2 1064.2,811.1 1065.3,823 1066.5,829 1067.7,826 1068.9,823 1070.1,817.1 1071,811.1 1071.9,823 1072.8,808.2 1073.7,805.2 1074.6,823 1075.4,805.2 1076.3,840.8 1077.2,852.7 1078.4,849.8 1079.6,852.7 1080.8,846.8 1082,852.7 1083.2,837.9 1084.4,763.6 1085.5,704.2 1086.4,674.4 1087.3,670 1088.5,670 1089.7,674.4 1090.9,754.7 1091.8,849.8 1093,823 1093.9,820 1094.8,829 1095.7,823 1096.8,754.7 1097.7,683.3 1098.9,671.5 1100.1,671.5 1101.3,665.5 1102.2,659.6 1103.1,650.7 1104.3,653.6 1105.2,659.6 1106.3,662.5 1107.2,674.4 1108.7,677.4 1109.9,698.2 1110.8,772.5 1111.7,781.4 1112.6,775.5 1113.5,799.2 1114.4,829 1115.3,805.2 1116.2,823 1117,829 1117.9,799.2 1118.8,710.1 1119.7,713.1 1120.6,763.6 1121.5,763.6 1122.4,781.4 1123.6,799.2 1124.5,852.7 1125.4,864.6 1126.6,867.6 1127.7,870.6 1128.9,876.5 1129.8,894.3 1131,876.5 1132.5,870.6 1134,873.5 1135.5,867.6 1136.4,870.6 1137.3,879.5 1138.4,888.4 1139.9,894.3 1141.4,900.3 1142.9,904.7 1144.4,903.3 1146.2,906.2 1148,903.3 1149.7,900.3 1151.5,882.5 1152.7,861.7 1153.9,858.7 1155.1,876.5 1156.3,888.4 1158.1,894.3 1159.8,900.3 1161.6,903.3 1163.7,906.2 1165.8,909.2 1168.2,912.2 1170.5,910.7 1172.6,909.2 1174.1,882.5 1175,760.6 1175,760.6 1176.5,762.1 1177.1,906.2 1178.6,912.2 1180.9,910.7 1183.3,909.2 1185.4,912.2 1187.5,907.7 1189.3,904.7 1190.5,909.2 1192.2,907.7 1194.3,910.7 1196.4,907.7 1198.8,909.2 1201.2,909.2 1203.2,910.7 1205.3,912.2 1207.7,915.1 1210.1,916.6 1212.1,918.1 1214.2,915.1 1216.6,912.2 1218.1,907.7 1219.6,906.2 1221.4,907.7 1223.1,909.2 1224.9,910.7 1227,909.2 1229.1,912.2 1231.5,909.2 1233.8,907.7 1235.9,904.7 1237.4,903.3 1238.6,906.2 1239.8,912.2 1241.9,913.7 1243.9,912.2 1245.7,909.2 1247.5,909.2 1248.7,906.2 1249.9,901.8 1251.1,900.3 1252.3,903.3 1253.5,907.7 1255.2,912.2 1257.6,910.7 1259.7,909.2 1261.8,910.7 1263.6,909.2 1265.3,910.7 1267.1,907.7 1268.6,901.8 1269.5,904.7 1270.7,909.2 1272.5,910.7 1274.6,907.7 1276,906.2 1277.2,901.8 1278.4,897.3 1279.3,906.2 1280.5,909.2 1282.6,907.7 1285,909.2 1287.3,910.7 1289.4,907.7 1290.9,904.7 1292.1,903.3 1293.3,909.2 1294.8,907.7 1296.2,910.7 1297.7,909.2 1299.8,910.7 1302.2,912.2 1304.3,910.7 1306.3,909.2 1308.1,900.3 1309.3,879.5 1310.5,882.5 1311.7,891.4 1312.9,900.3 1314.1,897.3 1315.3,900.3 1316.5,904.7 1317.6,901.8 1319.1,909.2 1320.6,904.7 1322.4,906.2 1324.2,906.2 1326.6,904.7 1328.9,903.3 1331.3,904.7 1333.7,906.2 1336.1,907.7 1338.4,906.2 1340.2,900.3 1341.4,876.5 1342.6,864.6 1343.8,858.7 1345,852.7 1345.9,823 1346.8,763.6 1348,713.1 1349.1,689.3 1350,689.3 1350.9,757.6 1351.8,757.6 1352.7,769.5 1353.6,808.2 1354.5,840.8 1355.4,787.4 1356.3,787.4 1357.2,829 1358.1,808.2 1358.9,805.2 1359.8,811.1 1360.7,846.8 1361.6,873.5 1362.8,885.4 1364,891.4 1365.2,892.9 1366.4,888.4 1367.6,888.4 1368.8,882.5 1369.6,846.8 1370.5,826 1371.4,817.1 1372.3,840.8 1373.2,852.7 1374.1,855.7 1375,852.7 1375,852.7 1376.5,861.7 1378,867.6 1379.2,852.7 1380.3,826 1381.5,829 1382.4,867.6 1383.3,882.5 1384.5,840.8 1385.7,829 1386.9,846.8 1387.8,888.4 1389,891.4 1390.5,888.4 1391.6,897.3 1392.8,900.3 1394.3,903.3 1395.8,909.2 1397.3,912.2 1399.4,910.7 1401.7,912.2 1404.1,910.7 1406.2,912.2 1408.3,909.2 1410.7,910.7 1413,907.7 1415.1,909.2 1417.2,906.2 1419,907.7 1421.1,904.7 1422.5,897.3 1424,888.4 1425.5,885.4 1427,879.5 1428.5,876.5 1430,878 1431.5,876.5 1432.9,870.6 1433.8,733.9 1434.4,665.5 1435.6,667 1436.5,778.4 1437.4,781.4 1438.3,867.6 1439.8,867.6 1441,867.6 1442.2,864.6 1443.1,763.6 1443.9,658.1 1444.8,659.6 1445.4,707.1 1446.3,710.1 1447.2,793.3 1448.1,852.7 1449,876.5 1449.9,888.4 1451.1,900.3 1452.3,909.2 1453.8,903.3 1455.2,900.3 1456.7,906.2 1458.2,912.2 1459.7,903.3 1461.2,900.3 1463,903.3 1464.7,904.7 1467.1,907.7 1469.5,906.2 1471.6,909.2 1473.7,907.7 1476,909.2 1478.4,907.7 1480.5,909.2 1482.6,906.2 1484.4,900.3 1485.5,888.4 1486.7,876.5 1487.6,855.7 1488.5,855.7 1489.4,867.6 1490.3,873.5 1491.5,876.5 1492.7,882.5 1493.9,891.4 1495.1,900.3 1496.8,906.2 1498.6,912.2 1500.4,909.2 1502.2,906.2 1504,903.3 1505.8,900.3 1508.1,897.3 1510.2,894.3 1512.3,888.4 1513.5,882.5 1514.7,888.4 1515.9,892.9 1517,891.4 1519.1,888.4 1520.6,882.5 1522.1,882.5 1523.6,888.4 1525.1,885.4 1526.6,879.5 1527.7,876.5 1528.9,882.5 1530.1,888.4 1531.9,891.4 1534,894.3 1536.1,897.3 1537.8,891.4 1539,852.7 1539.9,769.5 1540.8,674.4 1542,665.5 1543.2,661.1 1544.4,659.6 1545.6,662.5 1546.8,665.5 1547.7,704.2 1548.5,769.5 1549.4,769.5 1550.3,787.4 1551.5,784.4 1552.4,704.2 1553.3,683.3 1554.5,680.4 1555.4,674.4 1556.3,677.4 1557.2,683.3 1558.1,719 1559.2,793.3 1560.4,802.2 1561.6,823 1562.5,852.7 1563.4,873.5 1564.3,873.5 1565.2,879.5 1566.1,888.4 1567.3,900.3 1568.5,888.4 1569.6,882.5 1571.1,888.4 1572.6,870.6 1573.8,861.7 1575,864.6 1574.9,861.7 1576.1,867.6 1577.3,852.7 1578.5,846.8 1579.7,840.8 1580.9,827.5 1581.8,829 1582.7,846.8 1583.5,861.7 1584.4,858.7 1585.6,852.7 1586.8,849.8 1588,845.3 1588.9,852.7 1589.8,867.6 1591,876.5 1592.2,882.5 1593.3,885.4 1594.8,889.9 1596.3,894.3 1597.8,894.3 1599.3,895.8 1600.8,900.3 1602.3,906.2 1603.8,909.2 1605.2,900.3 1606.1,867.6 1607,827.5 1607.9,829 1608.5,876.5 1609.4,882.5 1610.6,894.3 1611.8,900.3 1613.6,906.2 1615.3,909.2 1617.1,910.7 1618.9,909.2 1620.7,900.3 1621.6,763.6 1622.5,680.4 1623.7,677.4 1624.6,781.4 1625.4,811.1 1626.3,846.8 1627.2,858.7 1628.4,876.5 1629.6,882.5 1630.8,894.3 1632,892.9 1633.2,888.4 1634.4,886.9 1635.5,882.5 1636.7,867.6 1637.9,763.6 1639.1,674.4 1640.3,650.7 1641.5,649.2 1642.7,653.6 1643.9,662.5 1645.1,659.6 1645.9,650.7 1646.8,701.2 1647.7,680.4 1648.6,683.3 1649.8,704.2 1650.7,745.8 1651.6,796.3 1652.5,704.2 1653.4,689.3 1654.3,733.9 1655.2,781.4 1656.1,787.4 1656.9,781.4 1658.1,823 1659,826 1659.9,769.5 1661.1,766.6 1662.3,748.7 1663.2,748.7 1664.1,793.3 1665,837.9 1665.9,858.7 1667,873.5 1668.2,882.5 1669.4,888.4 1670.6,891.4 1672.1,897.3 1673.6,900.3 1675.1,904.7 1676.6,903.3 1678,900.3 1679.5,900.3 1681.3,894.3 1683.1,888.4 1684.3,885.4 1685.5,891.4 1687,897.3 1688.4,900.3 1690.2,897.3 1692,894.3 1693.2,900.3 1694.4,904.7 1695.9,901.8 1697.4,895.8 1698.8,891.4 1700.3,882.5 1701.8,870.6 1703.3,861.7 1704.8,852.7 1706.3,823 1707.5,799.2 1708.7,793.3 1709.8,793.3 1711,757.6 1711.9,727.9 1712.8,725 1713.7,763.6 1714.6,757.6 1715.5,772.5 1716.7,799.2 1717.9,829 1719.1,831.9 1720.2,858.7 1721.1,876.5 1722,882.5"/>
<rect class="B" x="200.5" y="886.5" width="7.5" height="37.5"/>
<rect class="O" x="208" y="886.5" width="25" height="37.5"/>
<rect class="B" x="233" y="886.5" width="14.8" height="37.5"/>
<rect class="O" x="247.8" y="886.5" width="15.9" height="37.5"/>
<rect class="B" x="263.7" y="886.5" width="8.5" height="37.5"/>
<rect class="O" x="272.2" y="886.5" width="40.2" height="37.5"/>
<rect class="B" x="312.4" y="886.5" width="12.2" height="37.5"/>
<rect class="O" x="324.6" y="886.5" width="8.3" height="37.5"/>
<rect class="B" x="332.9" y="886.5" width="14.5" height="37.5"/>
<rect class="O" x="347.4" y="886.5" width="28.3" height="37.5"/>
<rect class="B" x="375.7" y="886.5" width="13.1" height="37.5"/>
<rect class="O" x="388.8" y="886.5" width="67.2" height="37.5"/>
<rect class="B" x="456" y="886.5" width="5.8" height="37.5"/>
<rect class="O" x="461.8" y="886.5" width="6.4" height="37.5"/>
<rect class="B" x="468.2" y="886.5" width="29" height="37.5"/>
<rect class="O" x="497.2" y="886.5" width="17.4" height="37.5"/>
<rect class="B" x="514.6" y="886.5" width="108.8" height="37.5"/>
<rect class="O" x="623.4" y="886.5" width="16.8" height="37.5"/>
<rect class="B" x="640.2" y="886.5" width="31.9" height="37.5"/>
<rect class="O" x="672.1" y="886.5" width="18.6" height="37.5"/>
<rect class="B" x="690.7" y="886.5" width="38.2" height="37.5"/>
<rect class="O" x="728.9" y="886.5" width="20.8" height="37.5"/>
<rect class="B" x="749.7" y="886.5" width="5.7" height="37.5"/>
<rect class="O" x="755.4" y="886.5" width="15.7" height="37.5"/>
<rect class="B" x="771.1" y="886.5" width="5.4" height="37.5"/>
<rect class="O" x="776.5" y="886.5" width="25.1" height="37.5"/>
<rect class="B" x="801.6" y="886.5" width="8.6" height="37.5"/>
<rect class="O" x="810.2" y="886.5" width="35.1" height="37.5"/>
<rect class="B" x="845.3" y="886.5" width="6.4" height="37.5"/>
<rect class="O" x="851.7" y="886.5" width="6.9" height="37.5"/>
<rect class="B" x="858.6" y="886.5" width="9.9" height="37.5"/>
<rect class="O" x="868.5" y="886.5" width="12.4" height="37.5"/>
<rect class="B" x="880.9" y="886.5" width="19.5" height="37.5"/>
<rect class="O" x="900.4" y="886.5" width="6.9" height="37.5"/>
<rect class="B" x="907.3" y="886.5" width="26.1" height="37.5"/>
<rect class="O" x="933.4" y="886.5" width="21.9" height="37.5"/>
<rect class="B" x="955.3" y="886.5" width="17.4" height="37.5"/>
<rect class="O" x="972.7" y="886.5" width="67.8" height="37.5"/>
<rect class="B" x="1040.5" y="886.5" width="16.2" height="37.5"/>
<rect class="O" x="1056.7" y="886.5" width="72" height="37.5"/>
<rect class="B" x="1128.7" y="886.5" width="213.5" height="37.5"/>
<rect class="O" x="1342.2" y="886.5" width="20.9" height="37.5"/>
<rect class="B" x="1363.1" y="886.5" width="7.6" height="37.5"/>
<rect class="O" x="1370.7" y="886.5" width="17.1" height="37.5"/>
<rect class="B" x="1387.8" y="886.5" width="46.6" height="37.5"/>
<rect class="O" x="1434.4" y="886.5" width="15.1" height="37.5"/>
<rect class="B" x="1449.5" y="886.5" width="88.9" height="37.5"/>
<rect class="O" x="1538.4" y="886.5" width="27.6" height="37.5"/>
<rect class="B" x="1566" y="886.5" width="12" height="37.5"/>
<rect class="O" x="1578" y="886.5" width="12.7" height="37.5"/>
<rect class="B" x="1590.7" y="886.5" width="32.3" height="37.5"/>
<rect class="O" x="1623" y="886.5" width="6" height="37.5"/>
<rect class="B" x="1629" y="886.5" width="8" height="37.5"/>
<rect class="O" x="1637" y="886.5" width="31.2" height="37.5"/>
<rect class="B" x="1668.2" y="886.5" width="28.8" height="37.5"/>
<rect class="B" x="200.5" y="931.3" width="11.4" height="39"/>
<rect class="O" x="211.9" y="931.3" width="16.7" height="39"/>
<rect class="B" x="230.1" y="931.3" width="10.8" height="39"/>
<rect class="O" x="247.8" y="931.3" width="13.2" height="39"/>
<rect class="B" x="263.3" y="931.3" width="10.3" height="39"/>
<rect class="O" x="273.6" y="931.3" width="38.8" height="39"/>
<rect class="B" x="313.9" y="931.3" width="10.1" height="39"/>
<rect class="O" x="324" y="931.3" width="7.5" height="39"/>
<rect class="B" x="335" y="931.3" width="13.6" height="39"/>
<rect class="O" x="348.6" y="931.3" width="14.2" height="39"/>
<rect class="B" x="374.9" y="931.3" width="15.8" height="39"/>
<rect class="O" x="390.7" y="931.3" width="57.5" height="39"/>
<rect class="B" x="448.2" y="931.3" width="13.6" height="39"/>
<rect class="B" x="468.2" y="931.3" width="27.6" height="39"/>
<rect class="O" x="497.2" y="931.3" width="30.7" height="39"/>
<rect class="B" x="527.9" y="931.3" width="92.6" height="39"/>
<rect class="O" x="620.5" y="931.3" width="20.3" height="39"/>
<rect class="B" x="640.8" y="931.3" width="27.2" height="39"/>
<rect class="O" x="673.3" y="931.3" width="16.2" height="39"/>
<rect class="B" x="689.5" y="931.3" width="40.6" height="39"/>
<rect class="O" x="730.1" y="931.3" width="19.3" height="39"/>
<rect class="B" x="749.6" y="931.3" width="9.1" height="39"/>
<rect class="O" x="758.7" y="931.3" width="12" height="39"/>
<rect class="O" x="779.2" y="931.3" width="12.8" height="39"/>
<rect class="B" x="796" y="931.3" width="16.2" height="39"/>
<rect class="O" x="812.2" y="931.3" width="44.1" height="39"/>
<rect class="B" x="858.6" y="931.3" width="11.4" height="39"/>
<rect class="O" x="870" y="931.3" width="13" height="39"/>
<rect class="B" x="888.8" y="931.3" width="40.3" height="39"/>
<rect class="O" x="930" y="931.3" width="23.6" height="39"/>
<rect class="B" x="956.4" y="931.3" width="19.2" height="39"/>
<rect class="O" x="975.6" y="931.3" width="59.7" height="39"/>
<rect class="B" x="1035.9" y="931.3" width="21.8" height="39"/>
<rect class="B" x="1077.4" y="931.3" width="8.9" height="39"/>
<rect class="B" x="1125.7" y="931.3" width="28.9" height="39"/>
<rect class="B" x="1163.8" y="931.3" width="177.3" height="39"/>
<rect class="O" x="1341.9" y="931.3" width="20.6" height="39"/>
<rect class="O" x="1372" y="931.3" width="18.4" height="39"/>
<rect class="B" x="1392.1" y="931.3" width="145.4" height="39"/>
<rect class="O" x="1537.5" y="931.3" width="26.4" height="39"/>
<rect class="B" x="1565.2" y="931.3" width="59.7" height="39"/>
<rect class="B" x="1629.7" y="931.3" width="7.3" height="39"/>
<rect class="O" x="1637" y="931.3" width="33.2" height="39"/>
<rect class="B" x="1671.4" y="931.3" width="25.6" height="39"/>
<rect class="R" x="200.7" y="933.2" width="5.6" height="32.5"/>
<rect class="R" x="219.6" y="933.2" width="5.8" height="32.5"/>
<rect class="R" x="350.7" y="933.2" width="8.1" height="32.5"/>
<rect class="R" x="374.9" y="933.2" width="7.5" height="32.5"/>
<rect class="R" x="407.9" y="933.2" width="4.6" height="32.5"/>
<rect class="R" x="505.3" y="933.2" width="10.4" height="32.5"/>
<rect class="R" x="527.9" y="933.2" width="6.4" height="32.5"/>
<rect class="R" x="658.8" y="933.2" width="8.7" height="32.5"/>
<rect class="R" x="680.2" y="933.2" width="8.7" height="32.5"/>
<rect class="R" x="813.4" y="933.2" width="8.1" height="32.5"/>
<rect class="R" x="834" y="933.2" width="6.3" height="32.5"/>
<rect class="R" x="902.1" y="933.2" width="9.9" height="32.5"/>
<rect class="R" x="968" y="933.2" width="14" height="32.5"/>
<rect class="R" x="987.2" y="933.2" width="8.1" height="32.5"/>
<rect class="R" x="1008.6" y="933.2" width="20.3" height="32.5"/>
<rect class="R" x="1059.6" y="933.2" width="53.4" height="32.5"/>
<rect class="R" x="1118" y="933.2" width="30.8" height="32.5"/>
<rect class="R" x="1154.6" y="933.2" width="7.5" height="32.5"/>
<rect class="R" x="1177.8" y="933.2" width="2.3" height="32.5"/>
<rect class="R" x="1276.9" y="933.2" width="23.2" height="32.5"/>
<rect class="R" x="1311.4" y="933.2" width="4.3" height="32.5"/>
<rect class="R" x="1430.4" y="933.2" width="24.9" height="32.5"/>
<rect class="R" x="1587.3" y="933.2" width="22.3" height="32.5"/>
<rect class="R" x="1624.2" y="933.2" width="3.9" height="32.5"/>
<rect class="R" x="1660" y="933.2" width="8.2" height="32.5"/>
<rect class="R" x="1692.2" y="933.2" width="4.1" height="32.5"/>
<polyline class="db" points="175,856.7 394,856.7 398.5,852.5 447,852.6 450,853.9 516,853.9 519,856.7 1690,856.8 1722.1,855.3"/>
<polyline class="dr" points="175,877.1 394,877.1 398,874.3 447,874.4 450,875.1 516,875.1 519,877.1 1690,877.1 1722.1,876"/>
</g>
<rect x="175.3" y="611.0" width="1546.8" height="375.3" fill="none" stroke="#000" stroke-width="1.6"/>
<line x1="169" y1="651.2" x2="175.3" y2="651.2" class="tick"/>
<text transform="translate(162.5,662.9) scale(1,1.065)" class="tk" text-anchor="end">300</text>
<line x1="169" y1="738.6" x2="175.3" y2="738.6" class="tick"/>
<text transform="translate(162.5,750.3) scale(1,1.065)" class="tk" text-anchor="end">100</text>
<line x1="169" y1="832.8" x2="175.3" y2="832.8" class="tick"/>
<text transform="translate(162.5,844.5) scale(1,1.065)" class="tk" text-anchor="end">50</text>
<line x1="169" y1="904.3" x2="175.3" y2="904.3" class="tick"/>
<line x1="169" y1="928.1" x2="175.3" y2="928.1" class="tick"/>
<line x1="169" y1="950.8" x2="175.3" y2="950.8" class="tick"/>
<text transform="translate(163.8,916.2) scale(1,1.04)" class="bd" text-anchor="end">AT-IBI</text>
<text transform="translate(163.8,962.7) scale(1,1.04)" class="bd" text-anchor="end">agreed</text>
<text x="163.8" y="935.1" class="sm" text-anchor="end">0</text>
<line x1="201.1" y1="986.3" x2="201.1" y2="992.6" class="tick"/>
<text transform="translate(200.9,1020.6) scale(1,1.06)" class="tk" text-anchor="middle">0</text>
<line x1="450.2" y1="986.3" x2="450.2" y2="992.6" class="tick"/>
<text transform="translate(450,1020.6) scale(1,1.06)" class="tk" text-anchor="middle">50</text>
<line x1="699.3" y1="986.3" x2="699.3" y2="992.6" class="tick"/>
<text transform="translate(699.1,1020.6) scale(1,1.06)" class="tk" text-anchor="middle">100</text>
<line x1="948.4" y1="986.3" x2="948.4" y2="992.6" class="tick"/>
<text transform="translate(948.2,1020.6) scale(1,1.06)" class="tk" text-anchor="middle">150</text>
<line x1="1197.6" y1="986.3" x2="1197.6" y2="992.6" class="tick"/>
<text transform="translate(1197.4,1020.6) scale(1,1.06)" class="tk" text-anchor="middle">200</text>
<line x1="1446.7" y1="986.3" x2="1446.7" y2="992.6" class="tick"/>
<text transform="translate(1446.5,1020.6) scale(1,1.06)" class="tk" text-anchor="middle">250</text>
<line x1="1695.8" y1="986.3" x2="1695.8" y2="992.6" class="tick"/>
<text transform="translate(1695.6,1020.6) scale(1,1.06)" class="tk" text-anchor="middle">300</text>
<text transform="translate(24.6,799.6) rotate(-90)" class="yl" text-anchor="middle">&#956;V</text>
<text x="947.5" y="601" class="st" text-anchor="middle">Left EEG (t-SensIBI: 0.83, t-SpecIBI: 0.9)</text>
<text x="948.4" y="1057.8" class="tk" text-anchor="middle">seconds</text>
</svg></body></html>
